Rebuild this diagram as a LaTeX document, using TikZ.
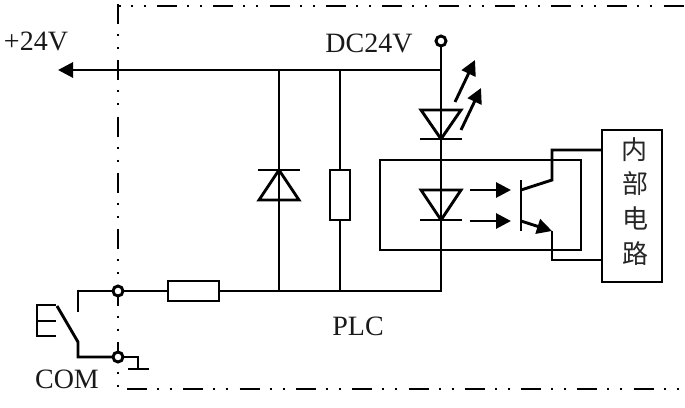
\documentclass[tikz,border=0pt]{standalone}
\usepackage{fontspec}
\setmainfont{Liberation Serif}
\newfontfamily\cjk{Noto Sans CJK SC}[Scale=1]
\usetikzlibrary{arrows.meta}
\tikzset{
  x=1pt,y=-1pt,
  wire/.style={line width=2.9pt,line join=miter},
  frameline/.style={line width=2.7pt,dash pattern=on 20pt off 10pt on 2pt off 11pt on 2pt off 11.3pt},
  term/.style={circle,draw,fill=white,line width=2.9pt,minimum size=10pt,inner sep=0pt,outer sep=0pt},
  resbox/.style={rectangle,draw,fill=white,line width=2.9pt,inner sep=0pt,outer sep=0pt},
  lbl/.style={inner sep=0pt,font=\fontsize{28}{28}\selectfont,text=black!90},
  han/.style={inner sep=0pt,font=\cjk\fontsize{26}{26}\selectfont,text=black!85},
  arr/.style={wire,-{Triangle[length=15pt,width=15pt]}},
}
\begin{document}
\begin{tikzpicture}
\useasboundingbox (0,0) rectangle (685,407);
% frame
\coordinate (ftop) at (118,6); \coordinate (ftopr) at (685,6);
\coordinate (fl) at (118,4); \coordinate (flb) at (118,392);
\coordinate (fb) at (127,389); \coordinate (fbr) at (685,389);
\draw[frameline] (fl) -- (flb);
\draw[frameline,dash phase=17.3pt] (ftop) -- (ftopr);
\draw[frameline] (fb) -- (fbr);
% junctions
\node[term] (vin) at (441,41) {};
\coordinate (j1) at (441,70);
\coordinate (j2) at (340,70);
\coordinate (j3) at (279,70);
\coordinate (tipL) at (58,70);
\coordinate (j4) at (441,291);
\coordinate (j5) at (340,291);
\coordinate (j6) at (279,291);
\node[term] (t1) at (118,291) {};
\node[term] (t2) at (118,357) {};
\node[resbox,minimum width=51pt,minimum height=20pt] (r1) at (193.5,291) {};
\node[resbox,minimum width=20pt,minimum height=50pt] (r2) at (340,195) {};
\node[resbox,fill=none,minimum width=60pt,minimum height=152pt] (ic) at (632,206) {};
\node[resbox,fill=none,minimum width=201pt,minimum height=90pt] (opto) at (480.5,205) {};
% rails
\draw[arr] (j1) -- (tipL);
\draw[wire] (vin) -- (j4) -- (r1);
\draw[wire] (r1) -- (t1);
\draw[wire] (j3) -- (j6);
\draw[wire] (j2) -- (r2) -- (j5);
% freewheel diode
\coordinate (dl) at (259,200); \coordinate (dr) at (299,200); \coordinate (da) at (279,170);
\coordinate (dbl) at (258,170); \coordinate (dbr) at (300,170);
\draw[wire] (dl) -- (dr) -- (da) -- cycle;
\draw[wire] (dbl) -- (dbr);
% LED
\coordinate (ledl) at (421,110); \coordinate (ledr) at (461,110); \coordinate (leda) at (441,139);
\coordinate (ledbl) at (420,139); \coordinate (ledbr) at (462,139);
\draw[wire] (ledl) -- (ledr) -- (leda) -- cycle;
\draw[wire] (ledbl) -- (ledbr);
\coordinate (ray1a) at (455,102); \coordinate (ray1b) at (475,60);
\coordinate (ray2a) at (461,130); \coordinate (ray2b) at (481,88);
\draw[arr] (ray1a) -- (ray1b);
\draw[arr] (ray2a) -- (ray2b);
% opto diode
\coordinate (odl) at (421,190); \coordinate (odr) at (461,190); \coordinate (oda) at (441,220);
\coordinate (odbl) at (420,220); \coordinate (odbr) at (462,220);
\draw[wire] (odl) -- (odr) -- (oda) -- cycle;
\draw[wire] (odbl) -- (odbr);
\coordinate (b1a) at (470,190); \coordinate (b1b) at (511,190);
\coordinate (b2a) at (470,221); \coordinate (b2b) at (511,221);
\draw[arr] (b1a) -- (b1b);
\draw[arr] (b2a) -- (b2b);
% transistor
\coordinate (qt) at (521,180); \coordinate (qb) at (521,231);
\coordinate (qc) at (521,190); \coordinate (qe) at (521,221);
\coordinate (c1) at (552,180); \coordinate (c2) at (552,150); \coordinate (c3) at (ic.west |- c2);
\coordinate (e1) at (552,231); \coordinate (e2) at (552,260); \coordinate (e3) at (ic.west |- e2);
\draw[wire] (qt) -- (qb);
\draw[wire] (qc) -- (c1) -- (c2) -- (c3);
\draw[arr] (qe) -- (e1);
\draw[wire] (e1) -- (e2) -- (e3);
% switch
\coordinate (s1) at (78,291); \coordinate (s2) at (78,312);
\coordinate (s3) at (78,342); \coordinate (s4) at (78,357); \coordinate (s5) at (57,306);
\draw[wire] (t1) -- (s1) -- (s2);
\draw[wire] (s5) -- (s3) -- (s4) -- (t2);
\coordinate (g1) at (138,357); \coordinate (g2) at (138,369);
\coordinate (g3) at (128,369); \coordinate (g4) at (149,369);
\draw[wire] (t2) -- (g1) -- (g2);
\draw[wire] (g3) -- (g4);
\coordinate (e-a) at (56,305); \coordinate (e-b) at (37,305); \coordinate (e-c) at (37,336); \coordinate (e-d) at (56,336);
\coordinate (e-m) at (37,321); \coordinate (e-n) at (56,321);
\draw[wire] (e-a) -- (e-b) -- (e-c) -- (e-d);
\draw[wire] (e-m) -- (e-n);
% labels
\node[lbl] (l24) at (36,41) {+24V};
\node[lbl] (ldc) at (369,43) {DC24V};
\node[lbl] (lplc) at (358,326) {PLC};
\node[lbl] (lcom) at (67,379) {COM};
\node[han] (h1) at (634,150) {内};
\node[han] (h2) at (635,184) {部};
\node[han] (h3) at (635,218) {电};
\node[han] (h4) at (635,254) {路};
\end{tikzpicture}
\end{document}
